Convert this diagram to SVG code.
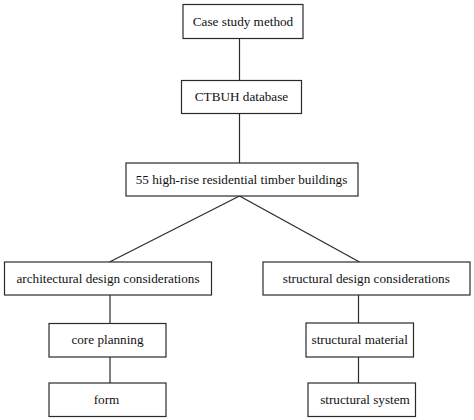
<svg xmlns="http://www.w3.org/2000/svg" width="474" height="420" viewBox="0 0 474 420">
<style>
rect{fill:#fff;stroke:#2a2a2a;stroke-width:1.2}
line{stroke:#2a2a2a;stroke-width:1.2}
text{font-family:"Liberation Serif","DejaVu Serif",serif;font-size:13.2px;fill:#111;text-anchor:middle}
</style>
<rect x="0" y="0" width="474" height="420" style="stroke:none"/>
<g id="connectors">
<line x1="239.5" y1="38.5" x2="239.5" y2="80.5"/>
<line x1="239.5" y1="113.5" x2="239.5" y2="163"/>
<line x1="239.5" y1="196" x2="109.5" y2="262"/>
<line x1="239.5" y1="196" x2="359.5" y2="262"/>
<line x1="110" y1="295" x2="110" y2="323.5"/>
<line x1="110" y1="357" x2="110" y2="383"/>
<line x1="358.5" y1="295" x2="358.5" y2="323"/>
<line x1="358.5" y1="357" x2="358.5" y2="383"/>
</g>
<g id="n1"><rect x="183" y="4.5" width="120" height="34"/><text x="243" y="25.5">Case study method</text></g>
<g id="n2"><rect x="181.5" y="80.5" width="120" height="33"/><text x="241.5" y="101">CTBUH database</text></g>
<g id="n3"><rect x="126" y="163" width="232" height="33"/><text x="241.5" y="183.5">55 high-rise residential timber buildings</text></g>
<g id="n4"><rect x="4.5" y="262" width="207" height="33"/><text x="108" y="282.5">architectural design considerations</text></g>
<g id="n5"><rect x="263" y="262" width="207" height="33"/><text x="366.3" y="282.5">structural design considerations</text></g>
<g id="n6"><rect x="49" y="323.5" width="117" height="33.5"/><text x="107.5" y="344">core planning</text></g>
<g id="n7"><rect x="49" y="383" width="117" height="33.5"/><text x="106.5" y="404">form</text></g>
<g id="n8"><rect x="306" y="323" width="107.5" height="34"/><text x="359.7" y="344">structural material</text></g>
<g id="n9"><rect x="308" y="383" width="107.5" height="33.5"/><text x="365" y="404">structural system</text></g>
</svg>
